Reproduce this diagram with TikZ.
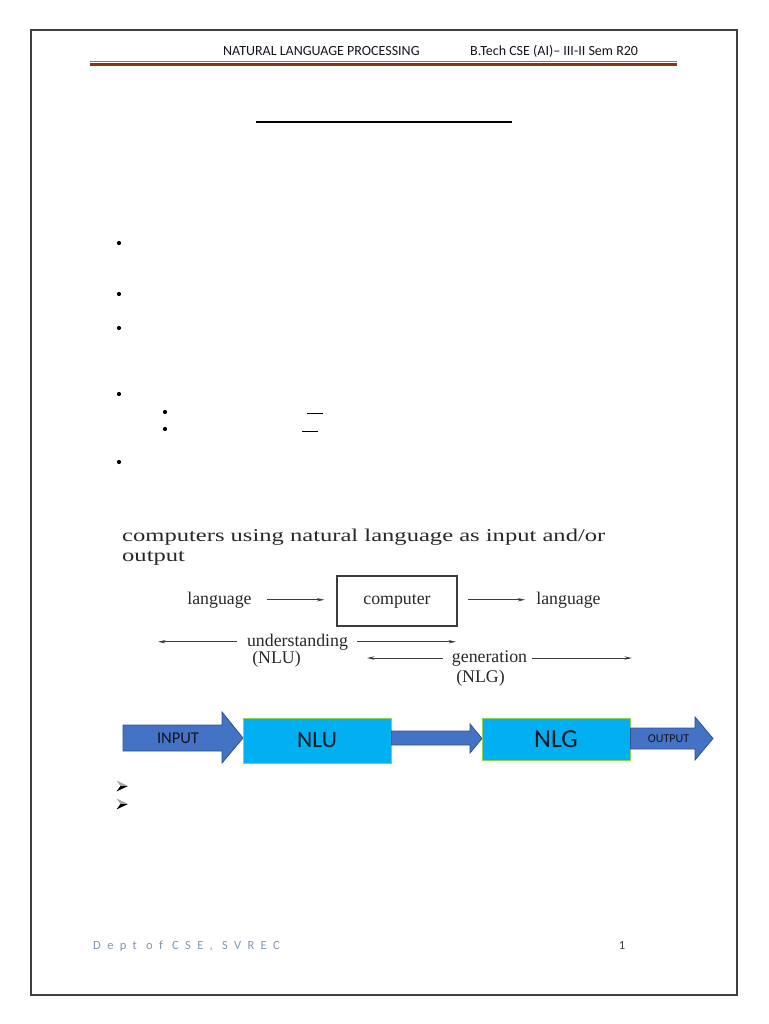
\documentclass[tikz,border=0pt]{standalone}
\usepackage{fontspec}
\usepackage{graphicx}
\setmainfont{Carlito}
\newfontfamily\figserif{Liberation Serif}
\usetikzlibrary{arrows.meta}
\definecolor{framec}{RGB}{64,64,64}
\definecolor{rulethin}{RGB}{197,100,42}
\definecolor{rulethick}{RGB}{135,55,15}
\definecolor{figtext}{RGB}{40,40,40}
\definecolor{figline}{RGB}{60,60,60}
\definecolor{arrowfill}{RGB}{68,114,196}
\definecolor{arrowedge}{RGB}{47,82,143}
\definecolor{boxfill}{RGB}{0,176,240}
\definecolor{boxedge}{RGB}{146,208,80}
\definecolor{footc}{RGB}{132,150,176}
\definecolor{inktext}{RGB}{20,20,30}
\begin{document}
\begin{tikzpicture}[x=1pt,y=-1pt,
  hdr/.style={anchor=base west,inner sep=0pt,text=inktext,font=\fontsize{14}{16}\selectfont},
  lbl/.style={anchor=base,inner sep=0pt,text=figtext,font=\figserif\fontsize{17.8}{20}\selectfont},
  ttl/.style={anchor=base west,inner sep=0pt,text=figtext,font=\figserif\fontsize{18}{20}\selectfont},
  farrow/.style={draw=figline,line width=0.9pt,-{Stealth[length=7.5pt,width=3.4pt]}},
  blockarrow/.style={fill=arrowfill,draw=arrowedge,line width=0.8pt,line join=miter},
  bluebox/.style={rectangle,fill=boxfill,draw=boxedge,line width=0.8pt,inner sep=0pt,text=inktext},
  bul/.style={fill=black}
]
\useasboundingbox (0,0) rectangle (768,1024);
\fill[white] (0,0) rectangle (768,1024);

% page frame
\draw[framec,line width=1.3pt] (31,30) rectangle (737,995);

% header
\node[hdr] (hdrA) at (223,56) {NATURAL LANGUAGE PROCESSING};
\node[hdr] (hdrB) at (470,56) {B.Tech CSE (AI)– III-II Sem R20};
\draw[rulethin,line width=0.9pt] (90,61.7) -- (677,61.7);
\draw[rulethick,line width=2.6pt] (90,64.6) -- (677,64.6);

% title underline
\draw[black,line width=2pt] (256,122) -- (512,122);

% bullets
\foreach \yy in {243,294,328,394,462} \fill[bul] (119,\yy) circle (2.1);
\foreach \yy in {412,429} \fill[bul] (165,\yy) circle (2.1);
\draw[black,line width=1pt] (307,413) -- (323,413);
\draw[black,line width=1pt] (302,431) -- (318,431);

% embedded figure
\node[ttl] (figtitle) at (122,541) {\scalebox{1.365}[1]{computers using natural language as input and/or}};
\node[ttl] (figout) at (122,561) {\scalebox{1.365}[1]{output}};

\node[lbl] (lang1) at (219.5,604) {language};
\node[rectangle,draw=figline,line width=1.2pt,minimum width=120pt,minimum height=50pt,inner sep=0pt,
      text=figtext,font=\figserif\fontsize{17.8}{20}\selectfont] (computer) at (397,601) {computer};
\node[lbl] (lang2) at (568.5,604) {language};
\draw[farrow,shorten <=15pt,shorten >=12pt] (lang1.east) -- (computer.west |- lang1.east);
\draw[farrow,shorten <=10pt,shorten >=11pt] (computer.east |- lang2.west) -- (lang2.west);

\node[lbl] (und) at (297.5,646) {understanding};
\node[lbl] (nlutag) at (276.5,663) {(NLU)};
\coordinate (uL) at (158,642);
\coordinate (uR) at (456,642);
\draw[farrow,shorten <=10pt] (und.west) -- (und.west -| uL);
\draw[farrow,shorten <=9pt] (und.east) -- (und.east -| uR);

\node[lbl] (gen) at (489.5,662) {generation};
\node[lbl] (nlgtag) at (480.5,682.5) {(NLG)};
\coordinate (gL) at (367,658);
\coordinate (gR) at (632,658);
\draw[farrow,shorten <=9pt] (gen.west) -- (gen.west -| gL);
\draw[farrow,shorten <=5pt] (gen.east) -- (gen.east -| gR);

% block diagram
\filldraw[blockarrow] (123,725) -- (222,725) -- (222,712) -- (243,738) -- (222,763) -- (222,751) -- (123,751) -- cycle;
\node[text=inktext,inner sep=0pt,font=\fontsize{16.5}{18}\selectfont] (input) at (178,738) {INPUT};

\node[bluebox,minimum width=148pt,minimum height=45pt,font=\fontsize{23.5}{26}\selectfont] (nlu) at (317,740.5) {NLU};

\filldraw[blockarrow] (nlu.east |- 0,731) -- (470,731) -- (470,724) -- (482,738.5) -- (470,753) -- (470,745) -- (nlu.east |- 0,745) -- cycle;

\node[bluebox,minimum width=148pt,minimum height=42pt,font=\fontsize{26}{28}\selectfont] (nlg) at (556,739) {NLG};

\filldraw[blockarrow] (nlg.east |- 0,728) -- (695,728) -- (695,717) -- (713,738.5) -- (695,760) -- (695,749) -- (nlg.east |- 0,749) -- cycle;
\node[text=inktext,inner sep=0pt,font=\fontsize{12}{14}\selectfont] (output) at (668.5,738.5) {OUTPUT};

% arrowhead bullets
\foreach \yy in {786,804} {
  \fill[black!35] (116.5,\yy-5.5) -- (128,\yy) -- (120.5,\yy) -- cycle;
  \fill[black] (120.5,\yy) -- (128,\yy) -- (116.5,\yy+5.5) -- cycle;
}

% footer
\node[anchor=base west,inner sep=0pt,text=footc,font=\fontsize{12.5}{14}\selectfont\addfontfeature{LetterSpace=51}] (dept) at (93,949) {Dept of CSE, SVREC};
\node[anchor=base,inner sep=0pt,text=framec,font=\fontsize{12.5}{14}\selectfont] (pnum) at (622,949) {1};
\end{tikzpicture}
\end{document}
